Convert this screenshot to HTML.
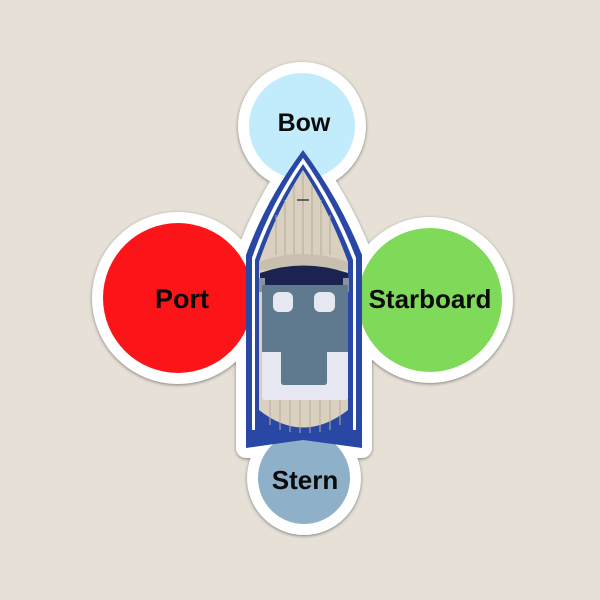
<!DOCTYPE html>
<html><head><style>
html,body{margin:0;padding:0;background:#e6e0d6;}
svg{display:block}
text{font-family:"Liberation Sans",sans-serif;font-weight:bold;fill:#0a0a0a;text-anchor:middle}
</style></head><body>
<svg width="600" height="600" viewBox="0 0 600 600">
<defs>
<filter id="sh" x="-20%" y="-20%" width="140%" height="140%">
<feDropShadow dx="0" dy="1" stdDeviation="1.5" flood-color="#555" flood-opacity="0.7"/>
</filter>
</defs>
<g filter="url(#sh)" fill="#fff" stroke="#fff" stroke-width="22" stroke-linejoin="round">
<circle cx="302" cy="126" r="53"/>
<circle cx="178" cy="298" r="75"/>
<circle cx="430" cy="300" r="72"/>
<circle cx="304" cy="478" r="46"/>
<path d="M303 150 Q340 200 362 255 L362 448 L246 448 L246 255 Q266 200 303 150 Z" stroke-width="20"/>
</g>
<circle cx="302" cy="126" r="53" fill="#c2ecfb"/>
<circle cx="178" cy="298" r="75" fill="#fb1518"/>
<circle cx="430" cy="300" r="72" fill="#7fda5a"/>
<circle cx="304" cy="478" r="46" fill="#8eb0c9"/>
<!-- hull -->
<path d="M303 150 Q340 200 362 255 L362 448 L303 440 L246 448 L246 255 Q266 200 303 150 Z" fill="#2948a6"/>
<path d="M303 158 Q336 205 356 258 L356 430 L252 430 L252 258 Q270 205 303 158 Z" fill="#fff"/>
<path d="M303 164 Q333 208 353 260 L353 430 L255 430 L255 260 Q273 208 303 164 Z" fill="#2948a6"/>
<path d="M303 170 Q330 212 348 262 L348 410 Q303 445 259 410 L259 262 Q276 212 303 170 Z" fill="#d9d0bf"/>
<g stroke="#b8ad98" stroke-width="1">
<line x1="285" y1="200" x2="285" y2="255"/><line x1="294" y1="185" x2="294" y2="255"/><line x1="303" y1="172" x2="303" y2="255"/><line x1="312" y1="185" x2="312" y2="255"/><line x1="321" y1="200" x2="321" y2="255"/><line x1="276" y1="215" x2="276" y2="255"/><line x1="330" y1="215" x2="330" y2="255"/>
<line x1="270" y1="400" x2="270" y2="425"/><line x1="280" y1="400" x2="280" y2="430"/><line x1="290" y1="400" x2="290" y2="432"/><line x1="300" y1="400" x2="300" y2="433"/><line x1="310" y1="400" x2="310" y2="433"/><line x1="320" y1="400" x2="320" y2="432"/><line x1="330" y1="400" x2="330" y2="430"/><line x1="340" y1="400" x2="340" y2="425"/>
</g>
<line x1="297" y1="200" x2="309" y2="200" stroke="#222" stroke-width="1.2"/>
<path d="M259 262 Q303 246 348 262 L348 270 L259 270 Z" fill="#c8bfae"/>
<path d="M260 273 Q303 258 348 273 L348 285 L260 285 Z" fill="#1b2350"/>
<rect x="259" y="278" width="6" height="14" fill="#8a93a0"/>
<rect x="343" y="278" width="6" height="14" fill="#8a93a0"/>
<rect x="262" y="285" width="86" height="115" rx="3" fill="#e6e7f0"/>
<path d="M262 285 H348 V352 H327 V382 Q327 385 324 385 H284 Q281 385 281 382 V352 H262 Z" fill="#5f7a8e"/>
<rect x="273" y="292" width="20" height="20" rx="6" fill="#e6e7f0"/>
<rect x="314" y="292" width="21" height="20" rx="6" fill="#e6e7f0"/>
<text x="304" y="131" font-size="25">Bow</text>
<text x="182" y="308" font-size="27">Port</text>
<text x="430" y="308" font-size="26">Starboard</text>
<text x="305" y="489" font-size="26">Stern</text>
</svg>
</body></html>
